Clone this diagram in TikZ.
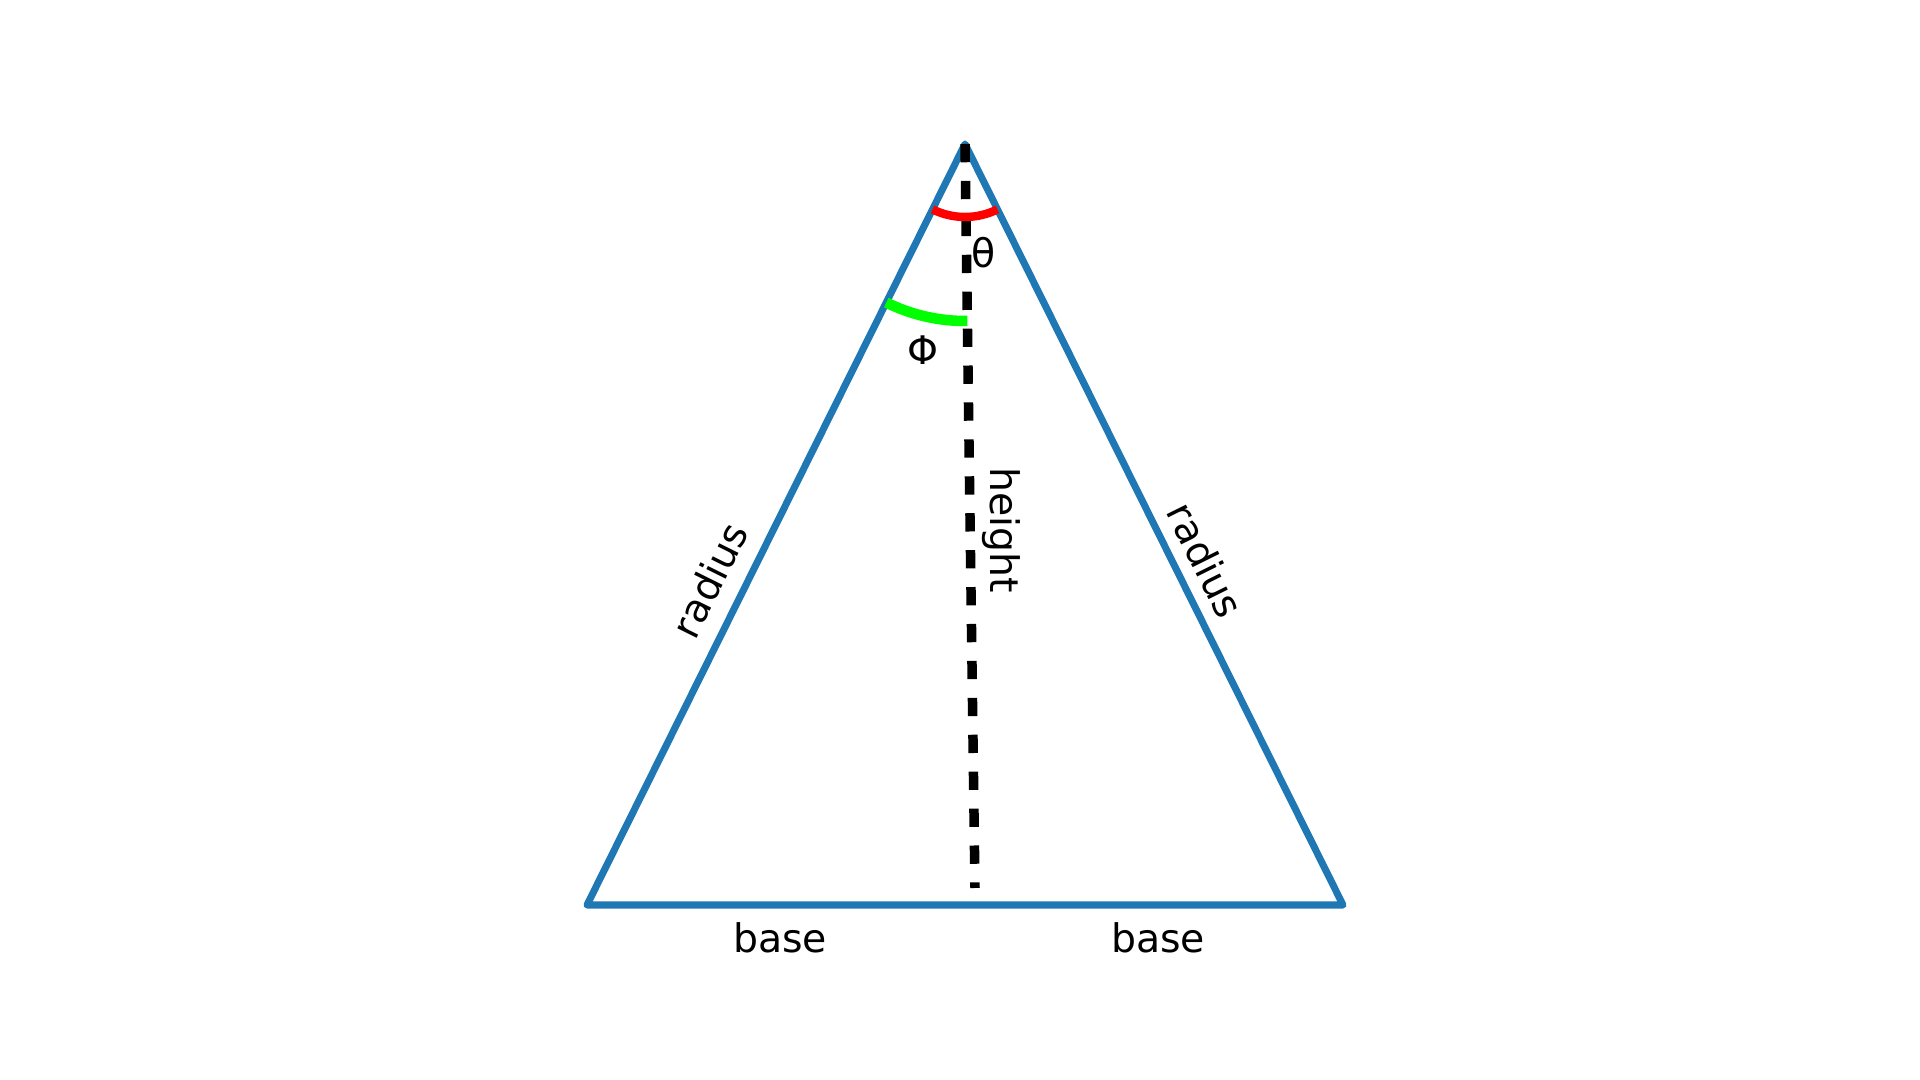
\documentclass[tikz,border=0pt]{standalone}
\usepackage{fontspec}
\setmainfont{DejaVu Sans}
\usepackage{tikz}

\begin{document}
\begin{tikzpicture}[x=0.01cm, y=-0.01cm, every node/.style={font=\fontsize{11.2}{13}\selectfont, inner sep=0pt},
  side/.style={draw={rgb,255:red,31;green,119;blue,180}, line width=2pt, line join=round},
  heightline/.style={draw=black, line width=2.7pt, dash pattern=on 5.2pt off 5.3pt}]
  \useasboundingbox (0,0) rectangle (1920,1080);
  \coordinate (A) at (965,144);
  \coordinate (L) at (587,905);
  \coordinate (R) at (1343,905);
  \coordinate (F) at (975,888);
  \draw[side] (L) -- (A) -- (R) -- cycle;
  \draw[heightline] (A) -- (F);
  \draw[red, line width=2.4pt] ([shift={(116.4:73)}]A) arc[start angle=116.4, end angle=63.6, radius=73];
  \draw[green, line width=3pt] ([shift={(116.4:177)}]A) arc[start angle=116.4, end angle=89.2, radius=177];
  \node (theta) at (984,253) {θ};
  \node (phi) at (923,350) {Φ};
  \node (h) [rotate=-90] at (1001,530) {height};
  \node (rl) [rotate=63.6] at (709,580) {radius};
  \node (rr) [rotate=-63.6] at (1206,560) {radius};
  \node (bl) at (780,938) {base};
  \node (br) at (1158,938) {base};
\end{tikzpicture}
\end{document}
